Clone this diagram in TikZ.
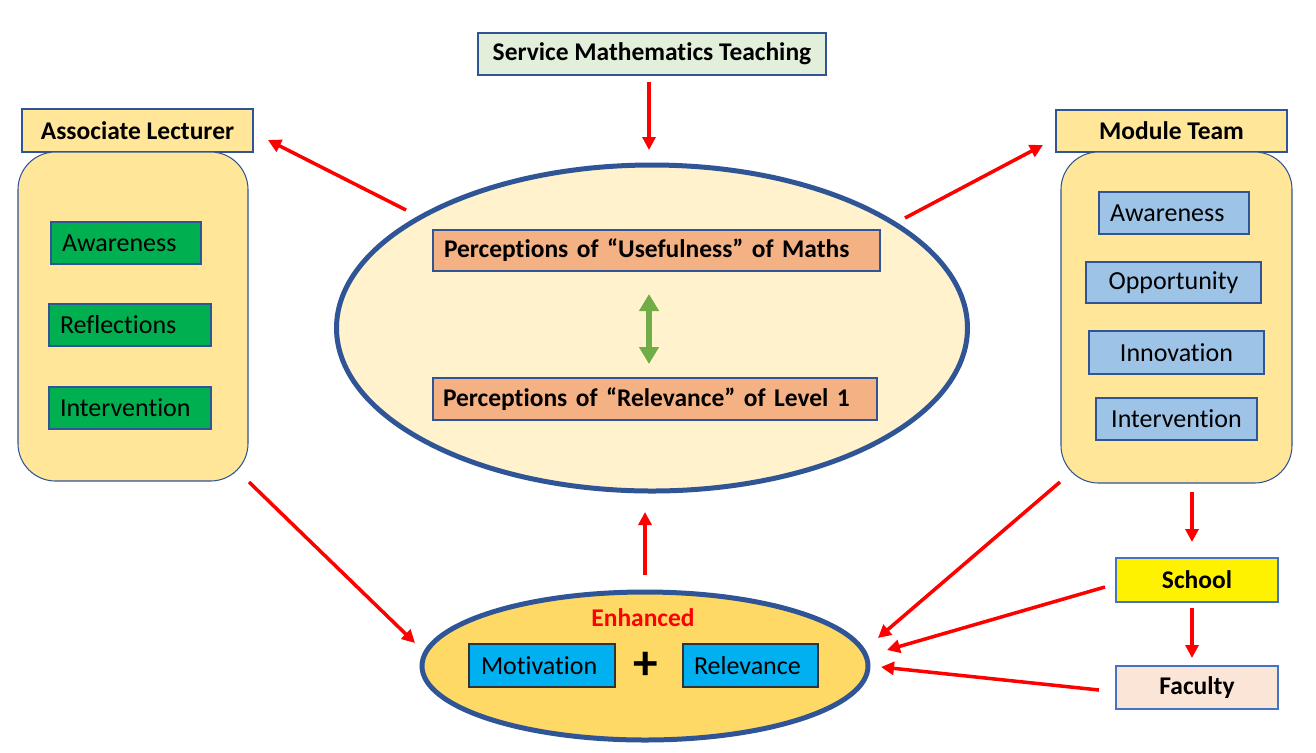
\documentclass[tikz,border=0pt]{standalone}
\usepackage{fontspec}
\setmainfont{Carlito}[Ligatures={NoCommon}]
\usetikzlibrary{shapes.geometric,arrows.meta}
\definecolor{bord}{HTML}{2F5597}
\definecolor{bord2}{HTML}{4472C4}
\definecolor{hdrfill}{HTML}{FFE699}
\definecolor{smtfill}{HTML}{E2EFDA}
\definecolor{bigfill}{HTML}{FFF2CC}
\definecolor{percfill}{HTML}{F4B183}
\definecolor{gfill}{HTML}{00B050}
\definecolor{bfill}{HTML}{9DC3E6}
\definecolor{enhfill}{HTML}{FFD966}
\definecolor{cyanfill}{HTML}{00B0F0}
\definecolor{facfill}{HTML}{FBE5D6}
\definecolor{garrow}{HTML}{70AD47}
\begin{document}
\begin{tikzpicture}[x=0.02cm,y=-0.02cm,
  lbl/.style={font=\fontsize{14.8}{17}\selectfont},
  blbl/.style={font=\bfseries\fontsize{14.5}{17}\selectfont},
  boxs/.style={draw=bord, line width=0.9pt, inner sep=0pt},
  leftbox/.style={boxs, align=left, inner xsep=0.22cm},
  arr/.style={draw=red, line width=2pt, -{Triangle[length=0.26cm,width=0.26cm]}},
  body/.style={draw=bord, line width=0.6pt, fill=hdrfill, rounded corners=0.75cm, inner sep=0pt},
  ell/.style={ellipse, draw=bord, line width=0.1cm, inner sep=0pt}
]
\useasboundingbox[fill=white] (0,0) rectangle (1316,752);

% top box
\node[boxs, blbl, fill=smtfill, minimum width={348*0.02cm}, minimum height={42*0.02cm}] (smt) at (652,54) {Service Mathematics Teaching};

% big ellipse
\node[ell, fill=bigfill, minimum width={631*0.02cm}, minimum height={326*0.02cm}] (big) at (652,328) {};
\node[leftbox, blbl, fill=percfill, text width={(447-22)*0.02cm}, minimum height={41*0.02cm}] (use) at (656.5,250.5) {Perceptions of “Usefulness” of Maths};
\node[leftbox, blbl, fill=percfill, text width={(446-22)*0.02cm}, minimum height={42*0.02cm}, inner xsep=0.2cm] (relv) at (655,399) {Perceptions of “Relevance” of Level 1};
\coordinate (g1) at (649,294);
\coordinate (g2) at (649,364);
\draw[draw=garrow, line width=0.13cm, {Triangle[length=0.34cm,width=0.38cm]}-{Triangle[length=0.34cm,width=0.38cm]}] (g1) -- (g2);

% left column
\node[boxs, blbl, fill=hdrfill, minimum width={231*0.02cm}, minimum height={43*0.02cm}] (al) at (137.5,130.5) {Associate Lecturer};
\node[body, minimum width={230*0.02cm}, minimum height={329*0.02cm}] (alb) at (133,316.5) {};
\node[leftbox, lbl, fill=gfill, text width={(150-22)*0.02cm}, minimum height={42*0.02cm}] (ga) at (126,243) {Awareness};
\node[leftbox, lbl, fill=gfill, text width={(162-22)*0.02cm}, minimum height={42*0.02cm}] (gr) at (130,325) {Reflections};
\node[leftbox, lbl, fill=gfill, text width={(162-22)*0.02cm}, minimum height={42*0.02cm}] (gi) at (130,408) {Intervention};

% right column
\node[boxs, blbl, fill=hdrfill, minimum width={231*0.02cm}, minimum height={42*0.02cm}] (mt) at (1171.5,131) {Module Team};
\node[body, minimum width={231*0.02cm}, minimum height={331*0.02cm}] (mtb) at (1176.5,317.5) {};
\node[leftbox, lbl, fill=bfill, text width={(150-22)*0.02cm}, minimum height={42*0.02cm}] (ba) at (1174,213) {Awareness};
\node[boxs, lbl, fill=bfill, minimum width={175*0.02cm}, minimum height={41*0.02cm}] (bo) at (1173.5,282.5) {Opportunity};
\node[boxs, lbl, fill=bfill, minimum width={175*0.02cm}, minimum height={43*0.02cm}] (bn) at (1176.5,352.5) {Innovation};
\node[boxs, lbl, fill=bfill, minimum width={161*0.02cm}, minimum height={42*0.02cm}] (bi) at (1176.5,419) {Intervention};

% school / faculty
\node[draw=bord2, line width=1.5pt, inner sep=0pt, blbl, fill=yellow, minimum width={162*0.02cm}, minimum height={44*0.02cm}] (sch) at (1197,580) {School};
\node[draw=bord2, line width=1.5pt, inner sep=0pt, blbl, fill=facfill, minimum width={162*0.02cm}, minimum height={43*0.02cm}] (fac) at (1197,687.5) {Faculty};

% bottom ellipse
\node[ell, fill=enhfill, minimum width={446*0.02cm}, minimum height={148*0.02cm}] (enh) at (645,666) {};
\node[blbl, text=red, inner sep=0pt] (enht) at (643,618) {Enhanced};
\node[draw=black!80, line width=0.9pt, inner sep=0pt, align=left, inner xsep=0.24cm, lbl, fill=cyanfill, text width={(146-24)*0.02cm}, minimum height={43*0.02cm}] (mot) at (542,665.5) {Motivation};
\node[font=\bfseries\fontsize{28}{30}\selectfont, inner sep=0pt] (plus) at (646,666) {+};
\node[draw=black!80, line width=0.9pt, inner sep=0pt, align=left, inner xsep=0.22cm, lbl, fill=cyanfill, text width={(135-22)*0.02cm}, minimum height={43*0.02cm}] (rel) at (750.5,665.5) {Relevance};

% connector ends
\coordinate (c1s) at (649,82);   \coordinate (c1e) at (649,150);
\coordinate (c2s) at (406,210);  \coordinate (c2e) at (268,140);
\coordinate (c3s) at (905,218);  \coordinate (c3e) at (1043,145);
\coordinate (c4s) at (249,482);  \coordinate (c4e) at (415,643);
\coordinate (c5s) at (645,575);  \coordinate (c5e) at (645,512);
\coordinate (c6s) at (1060,482); \coordinate (c6e) at (878,638);
\coordinate (c7s) at (1192,492); \coordinate (c7e) at (1192,542);
\coordinate (c8s) at (1105,587); \coordinate (c8e) at (887,650);
\coordinate (c9s) at (1192,608); \coordinate (c9e) at (1192,658);
\coordinate (c10s) at (1099,690); \coordinate (c10e) at (881,667);

\draw[arr] (c1s) -- (c1e);
\draw[arr] (c2s) -- (c2e);
\draw[arr] (c3s) -- (c3e);
\draw[arr] (c4s) -- (c4e);
\draw[arr] (c5s) -- (c5e);
\draw[arr] (c6s) -- (c6e);
\draw[arr] (c7s) -- (c7e);
\draw[arr] (c8s) -- (c8e);
\draw[arr] (c9s) -- (c9e);
\draw[arr] (c10s) -- (c10e);
\end{tikzpicture}
\end{document}
